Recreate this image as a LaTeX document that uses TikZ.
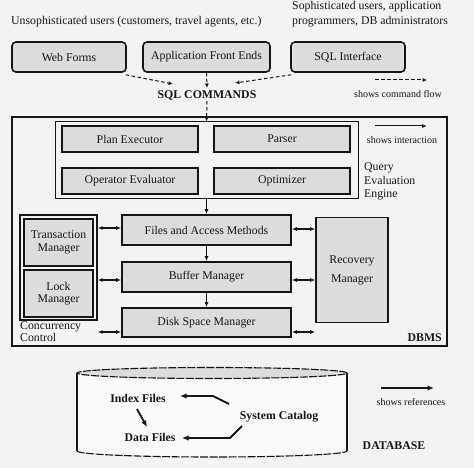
\documentclass[tikz,border=0pt]{standalone}
\usepackage{fontspec}
\setmainfont{Liberation Serif}
\usetikzlibrary{arrows.meta,calc}
\definecolor{bg}{HTML}{F3F3F3}
\definecolor{boxfill}{HTML}{DCDCDC}
\definecolor{ink}{HTML}{161616}
\tikzset{
  ubox/.style={draw=ink, line width=1.6pt, rounded corners=4pt, fill=boxfill, font=\fontsize{11.8}{13}\selectfont, inner sep=0pt, text=ink},
  mbox/.style={draw=ink, line width=1.6pt, fill=boxfill, font=\fontsize{11.8}{13.5}\selectfont, inner sep=0pt, align=center, text=ink},
  frame/.style={draw=ink, line width=1pt},
  txt/.style={font=\fontsize{11.8}{13}\selectfont, inner sep=0pt, text=ink},
  small/.style={font=\fontsize{10}{11}\selectfont, inner sep=0pt, text=ink},
  btxt/.style={font=\bfseries\fontsize{11.8}{13}\selectfont, inner sep=0pt, text=ink},
  flow/.style={draw=ink, line width=1pt, dash pattern=on 3.5pt off 2.5pt, -{Latex[length=4.5pt,width=4pt]}},
  inter/.style={draw=ink, line width=1pt, -{Latex[length=5pt,width=4pt]}},
  dinter/.style={draw=ink, line width=1.1pt, {Latex[length=5pt,width=4pt]}-{Latex[length=5pt,width=4pt]}},
  ref/.style={draw=ink, line width=1.8pt, -{Latex[length=6.5pt,width=5.5pt]}},
}
\begin{document}
\begin{tikzpicture}[x=1pt,y=-1pt]
\fill[bg] (0,0) rectangle (474,468);
\useasboundingbox (0,0) rectangle (474,468);

% top texts
\node[txt, anchor=west] (unso) at (11,22) {Unsophisticated users (customers, travel agents, etc.)};
\node[txt, anchor=north west, align=left, font=\fontsize{11.8}{15}\selectfont] (soph) at (292,1.5) {Sophisticated users, application\\programmers, DB administrators};

% user interface boxes
\node[ubox, minimum width=114pt, minimum height=30pt] (wf) at (69,57) {Web Forms};
\node[ubox, minimum width=127pt, minimum height=30pt] (afe) at (206.5,57) {Application Front Ends};
\node[ubox, minimum width=114pt, minimum height=30pt] (sqli) at (348,57) {SQL Interface};

\node[btxt] (sqlc) at (207,96) {SQL COMMANDS};
\coordinate (sqlL) at (173,84);
\coordinate (sqlR) at (235,83);
\coordinate (sqlT) at (207,88);

\draw[flow] ([xshift=-1pt,yshift=-2pt]wf.south east) -- (sqlL);
\draw[flow] ([xshift=1pt,yshift=-2pt]sqli.south west) -- (sqlR);
\draw[flow] (afe.south) -- (sqlT);

% legend command flow
\coordinate (lf1) at (375,80);
\coordinate (lf2) at (427,80);
\draw[flow] (lf1) -- (lf2);
\node[small] (lft) at (398,94) {shows command flow};

% DBMS frame
\node[frame, line width=1.3pt, minimum width=435pt, minimum height=229pt, inner sep=0pt] (dbms) at (229.5,231.5) {};
\node[btxt, anchor=east] (dbmst) at (442,338) {DBMS};

% Query evaluation engine
\node[frame, minimum width=303pt, minimum height=76pt, inner sep=0pt] (qee) at (206.5,160) {};
\node[mbox, minimum width=136pt, minimum height=26pt] (pe) at (130,139) {Plan Executor};
\node[mbox, minimum width=136pt, minimum height=26pt] (pa) at (282,139) {Parser};
\node[mbox, minimum width=136pt, minimum height=26pt] (oe) at (130,181) {Operator Evaluator};
\node[mbox, minimum width=136pt, minimum height=26pt] (op) at (282,181) {Optimizer};
\node[txt, anchor=north west, align=left, font=\fontsize{11.8}{13.5}\selectfont] (qeet) at (364,162.5) {Query\\Evaluation\\Engine};

\draw[flow] (sqlc.south) -- (qee.north);

% legend interaction
\coordinate (li1) at (375,126);
\coordinate (li2) at (427,126);
\draw[inter] (li1) -- (li2);
\node[small] (lit) at (402,140) {shows interaction};

% storage layers
\node[mbox, minimum width=169pt, minimum height=30pt] (fam) at (206.5,230) {Files and Access Methods};
\node[mbox, minimum width=169pt, minimum height=30pt] (bm) at (206.5,277) {Buffer Manager};
\node[mbox, minimum width=169pt, minimum height=29pt] (dsm) at (206.5,322.5) {Disk Space Manager};
\node[mbox, minimum width=72pt, minimum height=105pt, font=\fontsize{11.8}{19}\selectfont] (rm) at (352,270) {Recovery\\Manager};

% concurrency control
\node[frame, line width=1.3pt, minimum width=77pt, minimum height=105pt, inner sep=0pt] (cc) at (58.5,267.5) {};
\node[mbox, minimum width=69pt, minimum height=47pt] (tm) at (58.5,242.5) {Transaction\\Manager};
\node[mbox, minimum width=69pt, minimum height=47pt, font=\fontsize{11.8}{12.5}\selectfont] (lm) at (58.5,293.5) {Lock\\Manager};
\node[txt, anchor=north west, align=left, font=\fontsize{11.8}{12}\selectfont] (cct) at (20,321) {Concurrency\\Control};

\draw[inter] (qee.south) -- (fam.north);
\draw[inter] (fam.south) -- (bm.north);
\draw[inter] (bm.south) -- (dsm.north);

\draw[dinter] ([yshift=2pt]fam.west) -- ([yshift=2pt]fam.west -| cc.east);
\draw[dinter] ([yshift=-3pt]bm.west) -- ([yshift=-3pt]bm.west -| cc.east);
\draw[dinter] ([yshift=-9.5pt]dsm.west) -- ([yshift=-9.5pt]dsm.west -| cc.east);
\draw[dinter] ([yshift=1pt]fam.east) -- ([yshift=1pt]fam.east -| rm.west);
\draw[dinter] ([yshift=-3pt]bm.east) -- ([yshift=-3pt]bm.east -| rm.west);
\draw[dinter] ([yshift=-9.5pt]dsm.east) -- ([yshift=-9.5pt]dsm.east -| rm.west);

% database cylinder
\fill[white!60!bg] (77,373) -- (77,451) arc[start angle=180, end angle=360, x radius=135pt, y radius=6pt] -- (347,373) -- cycle;
\draw[ink, line width=1.1pt] (77,373) -- (77,451);
\draw[ink, line width=1.1pt] (347,373) -- (347,451);
\draw[ink, line width=1.1pt, dash pattern=on 8pt off 1.5pt] (77,451) arc[start angle=180, end angle=360, x radius=135pt, y radius=6pt];
\draw[ink, line width=1.1pt, fill=boxfill, dash pattern=on 8pt off 1.5pt] (212,373) ellipse[x radius=135pt, y radius=5.5pt];

\node[btxt] (idx) at (138,398) {Index Files};
\node[btxt] (dat) at (150,437) {Data Files};
\node[btxt] (sc) at (279,417) {System Catalog};
\node[btxt] (dbt) at (394,446) {DATABASE};

\coordinate (r1) at (229,404);
\coordinate (r2) at (213,396);
\coordinate (r3) at (180,396);
\draw[ref] (r1) -- (r2) -- (r3);
\coordinate (s1) at (242,426);
\coordinate (s2) at (230,438);
\coordinate (s3) at (182,438);
\draw[ref] (s1) -- (s2) -- (s3);
\coordinate (i1) at (137,409);
\coordinate (i2) at (147,427);
\draw[ref] (i1) -- (i2);

% legend references
\coordinate (lr1) at (381,388);
\coordinate (lr2) at (434,388);
\draw[ref] (lr1) -- (lr2);
\node[small] (lrt) at (411,402) {shows references};
\end{tikzpicture}
\end{document}
